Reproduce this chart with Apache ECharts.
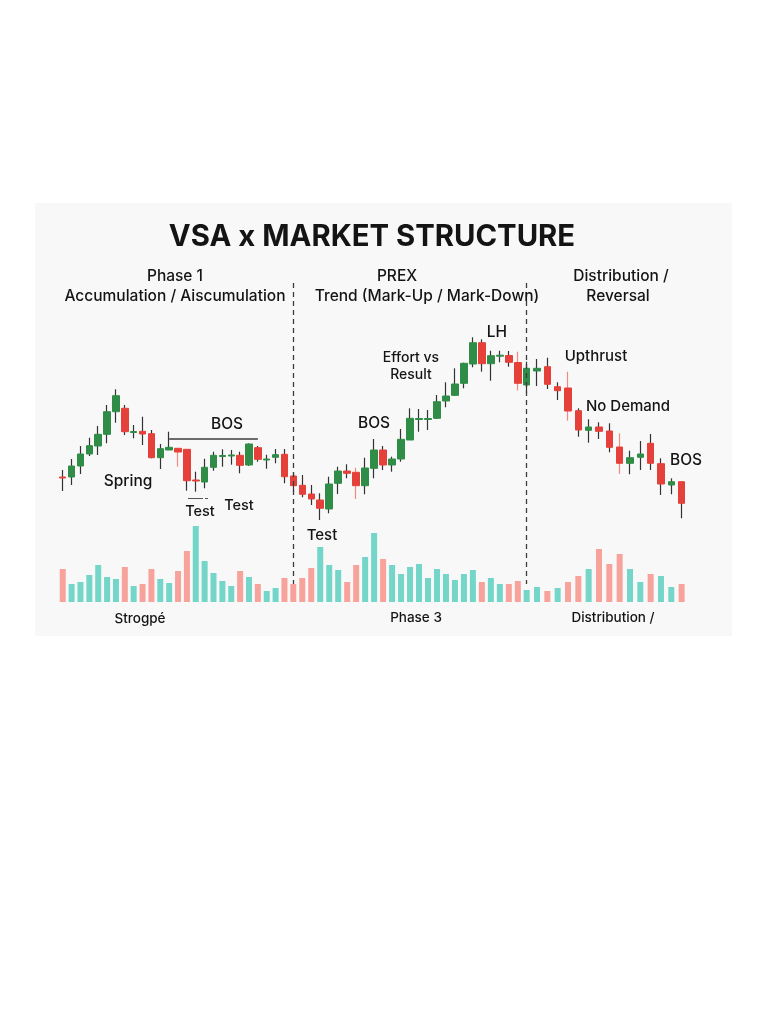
<!DOCTYPE html>
<html>
<head>
<meta charset="utf-8">
<style>
html,body{margin:0;padding:0;background:#ffffff;}
#chart{width:768px;height:1024px;}
</style>
<script src="https://cdn.jsdelivr.net/npm/echarts@6/dist/echarts.min.js"></script>
</head>
<body>
<div id="chart"></div>
<script>
// ---- data ----
const categories = Array.from({length: 68}, (_, i) => 'D' + (i + 1));
const open  = [53,53,64,76,84,95.7,118.3,121.7,97.5,98.7,96.3,72.3,80,81.7,80.7,50,48,62.7,73.5,74,74.7,65,82.3,70,72.7,75.7,54,44.7,36,30,21,46.7,59,57.7,44.3,61.7,80,65,71,90,110.5,110.5,111.7,129,134.7,146.7,166,187.3,166.3,173.8,174.5,167.5,145,159,163.3,143.3,142,119.3,99.7,103,99,83,66.7,72.7,86.7,66.3,45,48.3];
const close = [52,64,76,84.3,95.7,118.3,134.3,98.3,98.5,96,72.3,81.3,82.7,78,49.3,49,62.7,74.7,74.5,75,64.7,86,70.7,71,75.3,53.3,44.3,35.7,31,21.7,46,59,56.7,44.3,62,80,65,71,90.7,111.7,111.5,111.5,128.3,134,146,166.7,187.3,166.3,174.3,174.8,167.7,146.7,161.7,161.7,145.7,139.3,119,100,103,98.7,82.7,66.7,72.3,76,66.7,46,48.3,26.7];
const low   = [39,45,56,74,75,86.7,107.3,95,91.7,85,71.7,61,80,63.3,39.3,38.3,41.7,59.3,63.3,65.3,56.7,64,68.3,61.3,66.7,46.7,38.3,32.7,25,10,16.7,36,51.7,31,35.7,51.7,60,58.3,68.3,90,98.3,100,111,122.7,134,141.7,162.7,158.3,149.3,167.7,163.3,139.5,136.7,144,141,130,109.3,93.3,87.3,91,77.7,56,55.7,60,60,35,35.7,11.7];
const high  = [60,71,84,92.3,104,125,140.7,125,105,113.3,100,86,98.3,81.7,80.7,58.3,71.3,78.3,80.7,80,78.3,86.7,84,75.3,81,81,57.3,55,45,36.7,53.3,63.3,65.7,62.3,72.3,91,84,73.3,101,121.7,121,120,135,147.7,161.7,167.3,192.7,190.7,179.3,179.3,179,178.3,168.3,171,172.3,147.7,158.3,121.7,110.7,107.7,106.7,96.7,79.3,89,96,71.7,51.7,48.3];
const volume = [33,18,20,27,37,25,23,35,16,18,33,23,19,31,51,76,41,29,21,16,31,25,18,11,14,24,18,24,34,55,37,32,20,37,45,69,43,37,28,35,38,24,33,28,22,28,32,20,24,18,18,21,12,15,11,14,20,26,33,53,38,48,33,20,28,26,15,18];
// 1 = teal (up volume), 0 = salmon (down volume)
const volumeSide = [0,1,1,1,1,1,1,0,1,0,0,1,1,0,0,1,1,1,1,1,0,1,0,1,1,0,0,0,0,1,1,1,0,0,1,1,0,1,1,1,1,1,1,1,1,1,1,0,1,1,0,0,1,1,0,1,0,0,1,0,0,0,1,1,0,1,1,0];
// candles whose wick is drawn light red in the picture
const redWickCandles = ['D14','D34','D52','D57','D62'];
// phases: first candle of each phase
const phaseStarts = ['D1','D27','D53'];
const bosLevel = {from: 'D13', to: 'D23', price: 91};

// ---- layout & styles ----
const phaseGrids = [{left: 58.3, width: 230.6}, {left: 288.8, width: 233.5}, {left: 521.5, width: 165.3}];
const GREEN = '#2f8d47', RED = '#e5413a', WICK = '#333333', WICK_RED = '#f08a83';
const TEAL = '#74d6c8', SALMON = '#f8a29c';
const FONT = 'Inter, "Open Sans", sans-serif';

const starts = phaseStarts.map(c => categories.indexOf(c));
const ends = starts.slice(1).concat([categories.length]);

const grids = [], xAxes = [], yAxes = [], series = [];
starts.forEach((s, g) => {
  const e = ends[g];
  const cats = categories.slice(s, e);
  grids.push({left: phaseGrids[g].left, width: phaseGrids[g].width, top: 282, height: 320});
  xAxes.push({type: 'category', gridIndex: g, data: cats, show: false, boundaryGap: true});
  yAxes.push({type: 'value', gridIndex: g, min: -72, max: 248, show: false, splitLine: {show: false}});
  yAxes.push({type: 'value', gridIndex: g, min: 0, max: 320, show: false, splitLine: {show: false}});

  const wickData = cats.map((c, k) => {
    const i = s + k;
    const item = {value: [open[i], close[i], low[i], high[i]]};
    if (redWickCandles.includes(c)) {
      item.itemStyle = {color: WICK_RED, color0: WICK_RED, borderColor: WICK_RED, borderColor0: WICK_RED};
    }
    return item;
  });
  const bodyData = cats.map((c, k) => {
    const i = s + k;
    return [open[i], close[i], Math.min(open[i], close[i]), Math.max(open[i], close[i])];
  });
  const volData = cats.map((c, k) => ({value: volume[s + k], itemStyle: {color: volumeSide[s + k] ? TEAL : SALMON}}));

  const ml = [];
  if (g > 0) {
    ml.push([{coord: [cats[0], 247], lineStyle: {type: [5, 4], color: '#3c3c3c', width: 1.3}}, {coord: [cats[0], -54]}]);
  }
  if (cats.includes(bosLevel.from)) {
    ml.push([{coord: [bosLevel.from, bosLevel.price], lineStyle: {type: 'solid', color: '#3c3c3c', width: 1.5}}, {coord: [bosLevel.to, bosLevel.price]}]);
  }

  series.push({
    type: 'candlestick', xAxisIndex: g, yAxisIndex: 2 * g, data: wickData, barWidth: 1,
    itemStyle: {color: WICK, color0: WICK, borderColor: WICK, borderColor0: WICK, borderWidth: 1.2},
    markLine: {silent: true, symbol: 'none', label: {show: false}, data: ml}
  });
  series.push({
    type: 'candlestick', xAxisIndex: g, yAxisIndex: 2 * g, data: bodyData, barWidth: 7,
    itemStyle: {color: GREEN, color0: RED, borderColor: GREEN, borderColor0: RED, borderWidth: 1}
  });
  series.push({type: 'bar', xAxisIndex: g, yAxisIndex: 2 * g + 1, data: volData, barWidth: 6});
});

function txt(x, y, s, size, weight) {
  return {type: 'text', x: x, y: y, z: 10,
    style: {text: s, fill: '#141414', font: (weight || 500) + ' ' + size + 'px ' + FONT, textAlign: 'center', textVerticalAlign: 'middle'}};
}

const chart = echarts.init(document.getElementById('chart'), null, {renderer: 'canvas'});
chart.setOption({
  animation: false,
  backgroundColor: '#ffffff',
  grid: grids, xAxis: xAxes, yAxis: yAxes, series: series,
  graphic: [
    {type: 'rect', z: -1, shape: {x: 35, y: 203, width: 697, height: 433}, style: {fill: '#f8f8f8'}},
    txt(372, 237, 'VSA x MARKET STRUCTURE', 29.3, 700),
    txt(175, 276, 'Phase 1', 15.5),
    txt(175, 296, 'Accumulation / Aiscumulation', 15.5),
    txt(397, 276, 'PREX', 15.5),
    txt(427, 296, 'Trend (Mark-Up / Mark-Down)', 15.5),
    txt(621, 276, 'Distribution /', 15.5),
    txt(618, 296, 'Reversal', 15.5),
    txt(227, 424, 'BOS', 15.5),
    txt(128, 481, 'Spring', 15.5),
    txt(200, 512, 'Test', 14.5),
    {type: 'line', z: 10, shape: {x1: 188, y1: 498.5, x2: 203, y2: 498.5}, style: {stroke: '#555', lineWidth: 1}},
    {type: 'line', z: 10, shape: {x1: 205, y1: 498.5, x2: 208, y2: 498.5}, style: {stroke: '#555', lineWidth: 1}},
    txt(239, 506, 'Test', 14.5),
    txt(322, 535, 'Test', 15),
    txt(374, 423, 'BOS', 15.5),
    txt(411, 358, 'Effort vs', 14),
    txt(411, 375, 'Result', 14),
    txt(497, 332, 'LH', 15.5),
    txt(596, 356, 'Upthrust', 15),
    txt(628, 406, 'No Demand', 15),
    txt(686, 460, 'BOS', 15.5),
    txt(140, 619, 'Strogpé', 13.5),
    txt(416, 618, 'Phase 3', 13.5),
    txt(613, 618, 'Distribution /', 13.5)
  ]
});
</script>
</body>
</html>
